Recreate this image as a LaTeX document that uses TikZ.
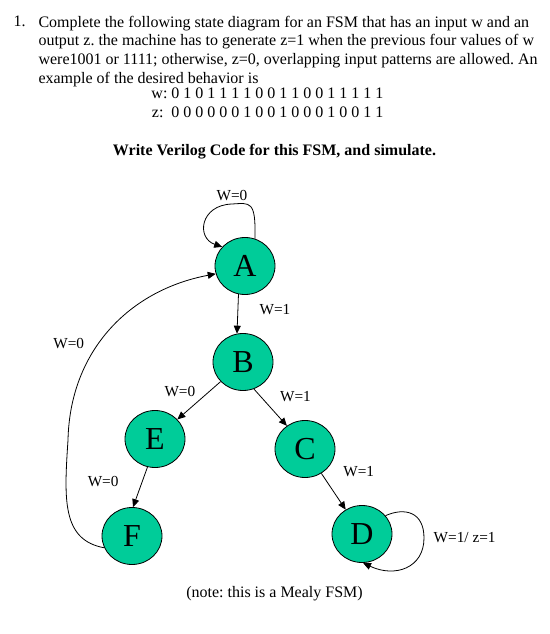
\documentclass[tikz,border=0pt]{standalone}
\usepackage{fontspec}
\setmainfont{Liberation Serif}
\usetikzlibrary{arrows.meta,positioning,shapes.geometric}
\definecolor{stategreen}{RGB}{0,204,153}
\frenchspacing

\tikzset{
  state/.style={ellipse, draw=black, line width=0.8pt, fill=stategreen,
    minimum width=60pt, minimum height=57pt, inner sep=0pt,
    font=\fontsize{32}{32}\selectfont},
  trans/.style={-{Triangle[length=8pt,width=7pt]}, line width=0.8pt},
  cond/.style={font=\fontsize{15.3}{17}\selectfont},
  body/.style={font=\fontsize{16}{18.5}\selectfont}
}

\begin{document}
\begin{tikzpicture}[x=1pt,y=-1pt]
 \useasboundingbox (0,0) rectangle (549,634);
 % question text
 \node[body, anchor=base west] (num) at (10,27) {1.};
 \node[body, anchor=base west, align=left] (task) at (35,83)
  {Complete the following state diagram for an FSM that has an input w and an\\
   output z. the machine has to generate z=1 when the previous four values of w\\
   were1001 or 1111; otherwise, z=0, overlapping input patterns are allowed. An\\
   example of the desired behavior is};
 \node[body, anchor=base east, align=right] (seq) at (387,117)
  {w: 0 1 0 1 1 1 1 0 0 1 1 0 0 1 1 1 1 1\\
   z:~ 0 0 0 0 0 0 1 0 0 1 0 0 0 1 0 0 1 1};
 \node[body, anchor=base, font=\fontsize{16}{18.5}\selectfont\bfseries] (verilog) at (274.5,155)
  {Write Verilog Code for this FSM, and simulate.};
 % states
 \node[state] (A) at (245,266) {A};
 \node[state] (B) at (243,362) {B};
 \node[state] (C) at (305,449) {C};
 \node[state] (D) at (362,534) {D};
 \node[state] (E) at (155,439) {E};
 \node[state] (F) at (132,536) {F};
 % transitions
 \path[trans]
  (A.-103) edge node[pos=.4, right=18pt, cond] (wAB) {W=1} (B.102)
  (B) edge node[midway, above left, cond] (wBE) {W=0} (E)
  (B.-68) edge node[midway, above right=2pt and 6pt, cond] (wBC) {W=1} (C.128)
  (C) edge node[pos=.3, above right=4pt and 11pt, cond] (wCD) {W=1} (D)
  (E.-105) edge node[midway, above left=-3pt and 18pt, cond] (wEF) {W=0} (F.88)
 ;
 \draw[trans] (A.70) .. controls (256,200) and (250,203) .. (232,204)
  node[above, cond] (wAA) {W=0}
  .. controls (200,205) and (196,238) .. (A.140);
 \draw[trans] (D.38) .. controls (405,507) and (424,512) .. (424,538)
  node[right=6pt, cond] (wDD) {W=1/ z=1}
  .. controls (424,568) and (395,578) .. (D.-88);
 \draw[trans] (F.203) .. controls (62,540) and (64,500) .. (68,440)
  .. controls (70,350) and (130,290) .. node[pos=.42, left=11pt, cond] (wFA) {W=0} (A.195);
 \node[body, anchor=base] (note) at (274.5,597) {(note: this is a Mealy FSM)};
\end{tikzpicture}
\end{document}
